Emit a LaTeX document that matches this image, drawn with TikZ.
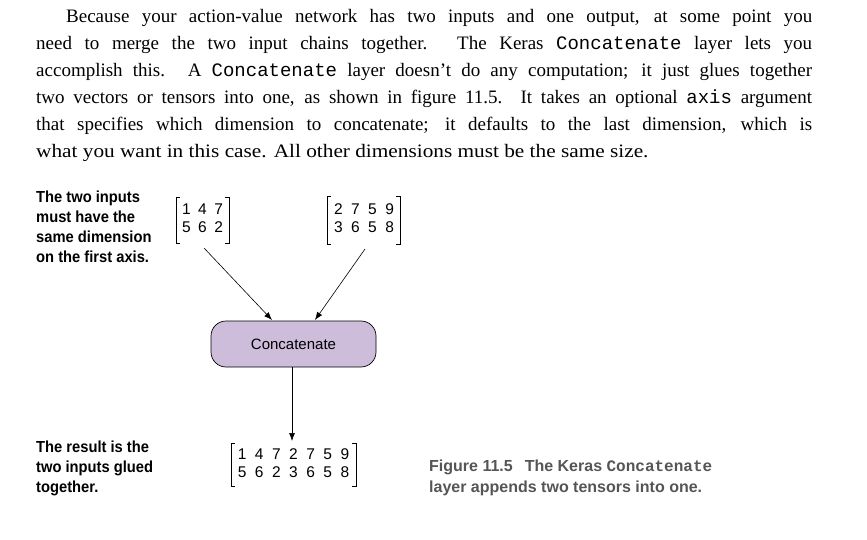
\documentclass[tikz,border=0pt]{standalone}
\usepackage{fontspec}
\usetikzlibrary{arrows.meta}
\setmainfont{Liberation Serif}
\newfontfamily\lsans{Liberation Sans}
\newfontfamily\lmono{Liberation Mono}
\begin{document}
\begin{tikzpicture}[x=1pt,y=-1pt,
  para/.style={anchor=base west,inner sep=0,font=\fontsize{19}{22}\selectfont},
  lab/.style={anchor=north west,align=left,inner sep=0,font=\lsans\bfseries\fontsize{16}{20}\selectfont},
  mat/.style={inner sep=0,font=\lsans\fontsize{15.5}{18}\selectfont},
  br/.style={line width=0.7pt},
  arr/.style={-{Latex[length=8pt,width=6pt]},line width=0.6pt}]
\useasboundingbox (0,0) rectangle (867,540);
\newcommand{\parline}[3]{\node[para] (#1) at (#2) {\makebox[776pt][s]{#3}};}
\node[para] (p1) at (66,23) {\makebox[746pt][s]{Because your action-value network has two inputs and one output, at some point you}};
\parline{p2}{36,50}{need to merge the two input chains together. The Keras {\lmono Concatenate} layer lets you}
\parline{p3}{36,77}{accomplish this. A {\lmono Concatenate} layer doesn't do any computation; it just glues together}
\parline{p4}{36,104}{two vectors or tensors into one, as shown in figure 11.5. It takes an optional {\lmono axis} argument}
\parline{p5}{36,131}{that specifies which dimension to concatenate; it defaults to the last dimension, which is}
\node[para] (p6) at (36,158) {\scalebox{1.12}[1]{what you want in this case. All other dimensions must be the same size.}};

\node[lab] (l1) at (36,191) {\scalebox{0.92}[1]{The two inputs}\\\scalebox{0.92}[1]{must have the}\\\scalebox{0.92}[1]{same dimension}\\\scalebox{0.92}[1]{on the first axis.}};
\node[lab] (l2) at (36,441) {\scalebox{0.92}[1]{The result is the}\\\scalebox{0.92}[1]{two inputs glued}\\\scalebox{0.92}[1]{together.}};

% matrices
\node[mat,anchor=center] (m1) at (202.5,220) {\begin{tabular}{@{}c@{\hspace{7.5pt}}c@{\hspace{7.5pt}}c@{}}1&4&7\\5&6&2\end{tabular}};
\draw[br] (180,197) -- (176,197) -- (176,243) -- (180,243);
\draw[br] (225,197) -- (229,197) -- (229,243) -- (225,243);
\node[mat,anchor=center] (m2) at (364,220) {\begin{tabular}{@{}c@{\hspace{8.5pt}}c@{\hspace{8.5pt}}c@{\hspace{8.5pt}}c@{}}2&7&5&9\\3&6&5&8\end{tabular}};
\draw[br] (331,196) -- (327,196) -- (327,244) -- (331,244);
\draw[br] (396,196) -- (400,196) -- (400,244) -- (396,244);
\node[mat,anchor=center] (m3) at (293.5,465) {\begin{tabular}{@{}c@{\hspace{8.5pt}}c@{\hspace{8.5pt}}c@{\hspace{8.5pt}}c@{\hspace{8.5pt}}c@{\hspace{8.5pt}}c@{\hspace{8.5pt}}c@{}}1&4&7&2&7&5&9\\5&6&2&3&6&5&8\end{tabular}};
\draw[br] (235,443) -- (231,443) -- (231,486) -- (235,486);
\draw[br] (352,443) -- (356,443) -- (356,486) -- (352,486);

\node[draw,fill={rgb,255:red,205;green,189;blue,219},rounded corners=15pt,minimum width=165pt,minimum height=46pt,line width=0.7pt,font=\lsans\fontsize{15}{17}\selectfont] (c) at (293.5,344) {Concatenate};
\coordinate (a1) at (204,248);
\coordinate (a2) at (365,249);
\coordinate (a3) at (292,441);
\draw[arr] (a1) -- (272,320);
\draw[arr] (a2) -- (315,320);
\draw[arr] (c.south -| a3) -- (a3);

\node[anchor=north west,align=left,inner sep=0,text={rgb,255:red,85;green,85;blue,85},font=\lsans\bfseries\fontsize{16}{21}\selectfont] (cap) at (429,460) {Figure 11.5\hspace{12pt}The Keras {\lmono Concatenate}\\layer appends two tensors into one.};
\end{tikzpicture}
\end{document}
